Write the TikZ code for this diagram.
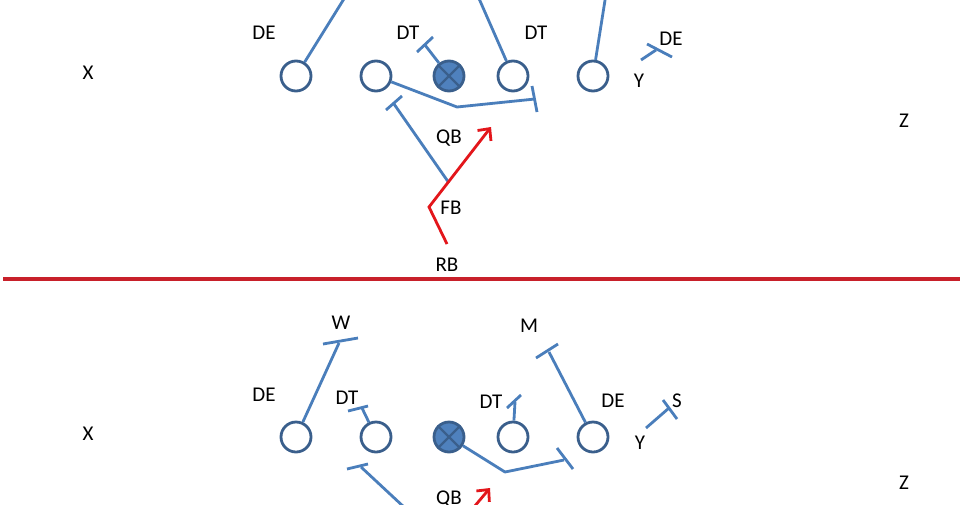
\documentclass[tikz,border=0pt]{standalone}
\usepackage{fontspec}
\setmainfont{Carlito}
\usetikzlibrary{arrows.meta}
\definecolor{pblue}{HTML}{4A7EBB}
\definecolor{cblue}{HTML}{3A5F8C}
\definecolor{fblue}{HTML}{4F81BD}
\definecolor{ared}{HTML}{E3161B}
\definecolor{hred}{HTML}{C8202A}
\tikzset{
  player/.style={circle,draw=cblue,line width=2.8pt,minimum size=30pt,inner sep=0pt,fill=white},
  center/.style={player,fill=fblue},
  lbl/.style={anchor=base,inner sep=0pt,font=\fontsize{21}{24}\selectfont},
  blk/.style={draw=pblue,line width=2.8pt,line join=round},
  tbar/.style={draw=pblue,line width=2.8pt},
  run/.style={draw=ared,line width=2.8pt,line join=miter,-{Straight Barb[length=9pt,width=17pt]}},
  xmark/.style={draw=cblue,line width=2.2pt}
}
\begin{document}
\begin{tikzpicture}[x=1pt,y=-1pt]
\useasboundingbox (0,0) rectangle (960,504);
\clip (0,0) rectangle (960,504);
\fill[white] (0,0) rectangle (960,504);

% ---------- top play ----------
\node[player] (t1) at (296,76) {};
\node[player] (t2) at (376,76) {};
\node[center] (t3) at (449,76) {};
\node[player] (t4) at (513,76) {};
\node[player] (t5) at (593,76) {};
\draw[xmark] (t3.45) -- (t3.225) (t3.135) -- (t3.315);

\node[lbl] (tX) at (88,79) {X};
\node[lbl] (tDE1) at (264,39) {DE};
\node[lbl] (tDT1) at (408,39) {DT};
\node[lbl] (tDT2) at (536,39) {DT};
\node[lbl] (tDE2) at (671,45) {DE};
\node[lbl] (tY) at (639,87) {Y};
\node[lbl] (tQB) at (449,143) {QB};
\node[lbl] (tFB) at (451,214) {FB};
\node[lbl] (tRB) at (447,271) {RB};
\node[lbl] (tZ) at (904,127) {Z};

\coordinate (a1) at (347,-6);
\draw[blk] (t1) -- (a1);
\coordinate (a2k) at (457,107);
\coordinate (a2) at (535,99);
\draw[blk] (t2) -- (a2k) -- (a2);
\draw[tbar] (532,86) -- (537,112);
\coordinate (a3) at (425,45);
\draw[blk] (t3) -- (a3);
\draw[tbar] (417,52) -- (433,37);
\coordinate (a4) at (477,-6);
\draw[blk] (t4) -- (a4);
\coordinate (a5) at (606,-6);
\draw[blk] (t5) -- (a5);
\coordinate (a6s) at (641,60);
\coordinate (a6) at (656,50);
\draw[blk] (a6s) -- (a6);
\draw[tbar] (647,44) -- (672,57);
\coordinate (a7s) at (449,183);
\coordinate (a7) at (394,104);
\draw[blk] (a7s) -- (a7);
\draw[tbar] (386,110) -- (402,96);
\coordinate (r1) at (447,244);
\coordinate (r2) at (429,207);
\coordinate (r3) at (491,127);
\draw[run] (r1) -- (r2) -- (r3);

% ---------- divider ----------
\coordinate (h1) at (3,279);
\coordinate (h2) at (962,279);
\draw[hred,line width=3.6pt] (h1) -- (h2);

% ---------- bottom play ----------
\node[player] (b1) at (296,437) {};
\node[player] (b2) at (376,437) {};
\node[center] (b3) at (449,437) {};
\node[player] (b4) at (513,437) {};
\node[player] (b5) at (593,437) {};
\draw[xmark] (b3.45) -- (b3.225) (b3.135) -- (b3.315);

\node[lbl] (bX) at (88,440) {X};
\node[lbl] (bDE1) at (264,401) {DE};
\node[lbl] (bW) at (341,329) {W};
\node[lbl] (bDT1) at (347,404) {DT};
\node[lbl] (bDT2) at (491,408) {DT};
\node[lbl] (bM) at (529,332) {M};
\node[lbl] (bDE2) at (613,407) {DE};
\node[lbl] (bS) at (677,407) {S};
\node[lbl] (bY) at (640,449) {Y};
\node[lbl] (bQB) at (449,504) {QB};
\node[lbl] (bZ) at (904,489) {Z};

\coordinate (c1) at (339,343);
\draw[blk] (b1) -- (c1);
\draw[tbar] (323,344) -- (358,338);
\coordinate (c2) at (362,408);
\draw[blk] (b2) -- (c2);
\draw[tbar] (348,411) -- (368,406);
\coordinate (c3s) at (405,508);
\coordinate (c3) at (361,467);
\draw[blk] (c3s) -- (c3);
\draw[tbar] (347,469) -- (368,464);
\coordinate (c4k) at (505,472);
\coordinate (c4) at (564,460);
\draw[blk] (b3) -- (c4k) -- (c4);
\draw[tbar] (557,448) -- (573,469);
\coordinate (c5) at (515,402);
\draw[blk] (b4) -- (c5);
\draw[tbar] (507,408) -- (521,395);
\coordinate (c6) at (549,352);
\draw[blk] (b5) -- (c6);
\draw[tbar] (536,358) -- (558,344);
\coordinate (c7s) at (646,428);
\coordinate (c7) at (669,408);
\draw[blk] (c7s) -- (c7);
\draw[tbar] (663,400) -- (677,419);
\coordinate (s1) at (463,520);
\coordinate (s2) at (490,488);
\draw[run] (s1) -- (s2);
\end{tikzpicture}
\end{document}
